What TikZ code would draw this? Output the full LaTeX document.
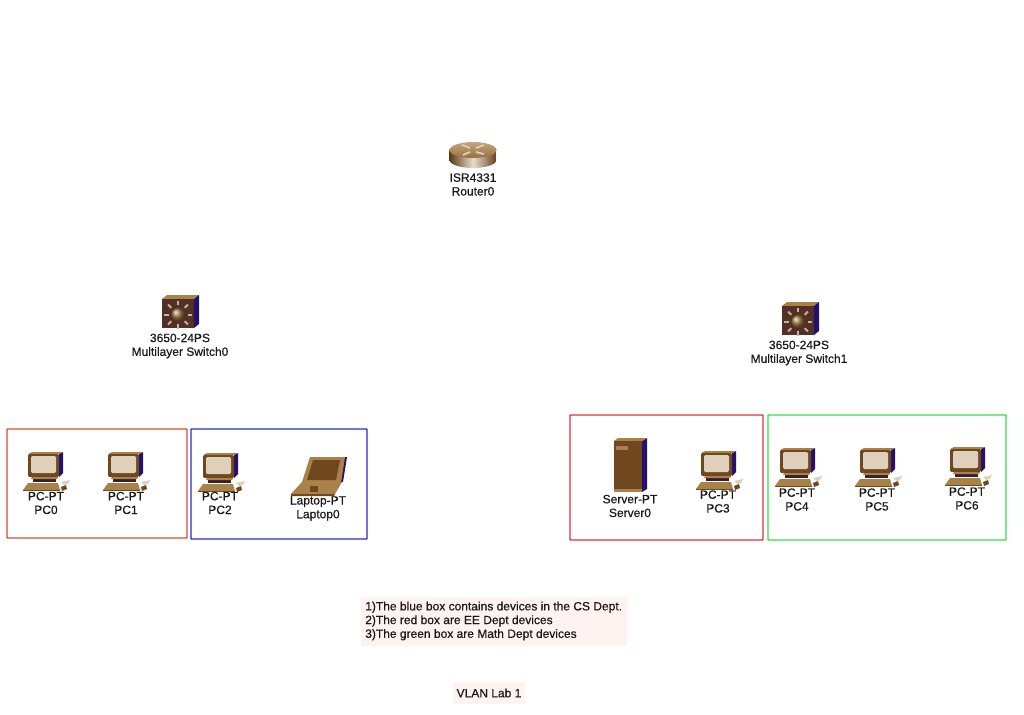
\documentclass[tikz,border=0pt]{standalone}
\usepackage{fontspec}
\setmainfont[FakeBold=0.6]{Liberation Sans}
\usepackage{xcolor}
\definecolor{devbrown}{RGB}{112,72,32}
\definecolor{devtan}{RGB}{168,130,72}
\definecolor{devscreen}{RGB}{222,208,186}
\definecolor{devside}{RGB}{38,16,110}
\definecolor{devdark}{RGB}{58,28,44}
\definecolor{notebg}{RGB}{254,243,241}
\definecolor{boxorange}{RGB}{214,78,48}
\definecolor{boxblue}{RGB}{40,40,205}
\definecolor{boxred}{RGB}{222,48,56}
\definecolor{boxgreen}{RGB}{50,225,70}
\tikzset{
	devlabel/.style={align=center, font=\fontsize{9}{10.3}\selectfont, inner sep=0pt, text=black!90},
	deptbox/.style={line width=1pt, rounded corners=0.5pt},
	notebox/.style={fill=notebg, inner sep=0pt},
	pcicon/.pic={
		\fill[devside] (31,2) -- (35,0) -- (35,21) -- (31,25) -- cycle;
		\fill[devtan] (0,2) -- (4,0) -- (35,0) -- (31,2) -- cycle;
		\fill[devbrown, rounded corners=1pt] (0,2) rectangle (31,25);
		\fill[devscreen, rounded corners=1pt] (3,4) rectangle (28,21);
		\fill[devdark] (5,25) rectangle (28,30);
		\fill[devtan] (4,25) -- (30,25) -- (29,27) -- (3,27) -- cycle;
		\fill[devtan] (0,31) -- (30,31) -- (32,38) -- (-5,38) -- cycle;
		\fill[devbrown] (-5,38) rectangle (32,39);
		\fill[devscreen] (33,30) -- (42,28) -- (40,32) -- (36,33) -- cycle;
		\fill[devbrown] (33,35) -- (38,33) -- (39,37) -- (34,39) -- cycle;
	},
	routericon/.pic={
		\shade[left color=devbrown!80!black, right color=devbrown!90!black, middle color=devscreen!70!white]
			(-23.5,0) -- (-23.5,10) arc (180:0:23.5 and 8) -- (23.5,0) -- cycle;
		\shade[top color=devtan!70!white, bottom color=devtan!70!devbrown] (0,0) ellipse (23.5 and 8);
		\draw[devscreen, line width=1.3pt] (-11,-5) -- (-3,-2) (11,-5) -- (3,-2) (-10,5) -- (-3,2) (11,4) -- (3,2);
	},
	switchicon/.pic={
		\fill[devtan] (0,5) -- (5,1) -- (37,1) -- (32,5) -- cycle;
		\fill[devside] (32,5) -- (37,1) -- (37,30) -- (32,34) -- cycle;
		\fill[devdark!55!devbrown] (0,5) rectangle (32,34);
		\foreach \a in {0,45,...,315}{
			\draw[devtan!60!white, line width=1.5pt] (16,20.5)+(\a:9.5) -- +(\a:14);
		}
		\shade[ball color=devtan] (16,20.5) circle (6.5);
	},
	servericon/.pic={
		\fill[devside] (28,3) -- (33,0) -- (33,51) -- (28,54) -- cycle;
		\fill[devtan] (0,3) -- (4,0) -- (33,0) -- (28,3) -- cycle;
		\fill[devbrown] (0,3) rectangle (28,54);
		\fill[devtan] (2,8) rectangle (14,12);
		\fill[devtan] (0,51) rectangle (28,54);
	},
	laptopicon/.pic={
		\fill[devside] (53,1) -- (57,1) -- (53,26) -- (50,26) -- cycle;
		\fill[devtan] (20,1) -- (55,1) -- (51,27) -- (12,26) -- cycle;
		\fill[devbrown] (23,4) -- (50,4) -- (46,24) -- (17,24) -- cycle;
		\fill[devtan] (12,26) -- (52,26) -- (45,38) -- (1,38) -- cycle;
		\fill[devbrown] (1,38) -- (45,38) -- (44,40) -- (1,40) -- cycle;
		\fill[devbrown] (20,30) rectangle (28,36);
	},
}
\begin{document}
\begin{tikzpicture}[x=0.75pt, y=-0.75pt]
	\useasboundingbox (0,0) rectangle (1024,714);
	
	% boxes
	\draw[deptbox, boxorange] (7,429) rectangle (187,538);
	\draw[deptbox, boxblue] (191,429) rectangle (367,539);
	\draw[deptbox, boxred] (570,415) rectangle (763,540);
	\draw[deptbox, boxgreen] (768,415) rectangle (1006,540);
	
	% router and switches
	\pic at (473,150) {routericon};
	\node[devlabel] (router0) at (473,184.5) {ISR4331\\Router0};
	\pic at (162,294) {switchicon};
	\node[devlabel] (switch0) at (180,346) {3650-24PS\\Multilayer Switch0};
	\pic at (782,301) {switchicon};
	\node[devlabel] (switch1) at (799,353) {3650-24PS\\Multilayer Switch1};
	
	% pcs
	\foreach \i/\x/\y/\lx/\ly in {0/28/452/46/503, 1/108/452/126/503, 2/203/453/220/503, 3/701/451/718/501.5, 4/780/448/797/499.5, 5/860/448/877/499.5, 6/950/447/967/498.5}{
		\pic at (\x,\y) {pcicon};
		\node[devlabel] (pc\i) at (\lx,\ly) {PC-PT\\PC\i};
	}
	
	% server and laptop
	\pic at (614,438) {servericon};
	\node[devlabel] (server0) at (630,506) {Server-PT\\Server0};
	\pic at (290,456) {laptopicon};
	\node[devlabel] (laptop0) at (318,508.5) {Laptop-PT\\Laptop0};
	
	% notes
	\node[notebox, minimum width=266*0.75pt, minimum height=49*0.75pt] (notes) at (494,621.5) {};
	\node[devlabel, align=left, anchor=west] (notetext) at (365,621) {1)The blue box contains devices in the CS Dept.\\2)The red box are EE Dept devices\\3)The green box are Math Dept devices};
	\node[notebox, devlabel, minimum width=72*0.75pt, minimum height=22*0.75pt] (title) at (489,693) {VLAN Lab 1};
\end{tikzpicture}
\end{document}
